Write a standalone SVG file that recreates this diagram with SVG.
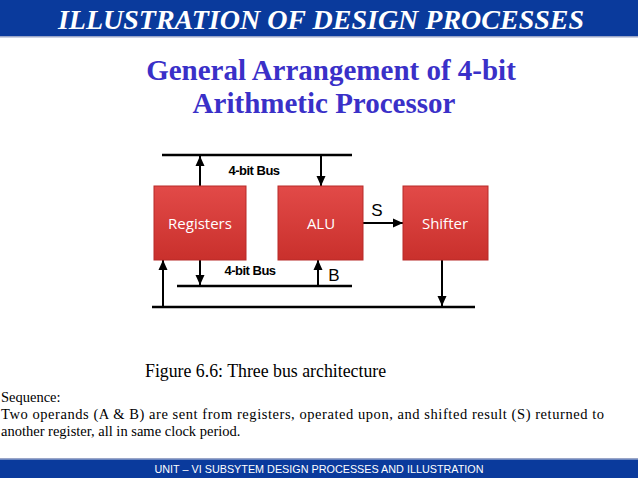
<svg xmlns="http://www.w3.org/2000/svg" width="638" height="478" viewBox="0 0 638 478">
<defs>
<linearGradient id="red" x1="0" y1="0" x2="0" y2="1">
<stop offset="0" stop-color="#e24a48"/>
<stop offset="1" stop-color="#c9302c"/>
</linearGradient>
<marker id="ah" markerUnits="userSpaceOnUse" markerWidth="10" markerHeight="10" viewBox="0 0 10 10" refX="10" refY="5" orient="auto">
<path d="M0,0.5 L10,5 L0,9.5 Z" fill="#000"/>
</marker>
<style>
.box{fill:url(#red);stroke:#b82a28;stroke-width:1}
.bt{font-family:"Open Sans","Liberation Sans",sans-serif;font-size:15px;fill:#fff;text-anchor:middle}
.bus{stroke:#000;stroke-width:2.5;fill:none}
.arr{stroke:#000;stroke-width:2;fill:none;marker-end:url(#ah)}
.lbl{font-family:"Liberation Sans",Arial,sans-serif;font-weight:bold;font-size:13px;fill:#000;text-anchor:middle;letter-spacing:-0.5px}
.sb{font-family:"Liberation Sans",Arial,sans-serif;font-size:17px;fill:#000;text-anchor:middle}
.serif{font-family:"Liberation Serif","Times New Roman",serif}
.hd{font-weight:bold;font-style:italic;font-size:28px;fill:#fff;text-anchor:middle}
.tt{font-weight:bold;font-size:29px;fill:#3a30c8;text-anchor:middle}
.body{font-size:14.5px;fill:#000}
.cap{font-size:17.8px;fill:#000}
.ft{font-family:"Liberation Sans",Arial,sans-serif;font-size:10.8px;fill:#fff;text-anchor:middle}
</style>
</defs>
<rect x="0" y="0" width="638" height="478" fill="#fff"/>
<g id="header">
<rect x="0" y="0" width="638" height="36" fill="#0a3a9c"/>
<rect x="0" y="36" width="638" height="1.5" fill="#9aa6c8"/>
<text class="serif hd" x="321" y="29">ILLUSTRATION OF DESIGN PROCESSES</text>
</g>
<g id="title">
<text class="serif tt" x="331" y="80">General Arrangement of 4-bit</text>
<text class="serif tt" x="324" y="113">Arithmetic Processor</text>
</g>
<g id="connectors">
<line class="bus" x1="162" y1="155" x2="352" y2="155"/>
<line class="bus" x1="177" y1="286" x2="352" y2="286"/>
<line class="bus" x1="152" y1="307" x2="475" y2="307" stroke-width="3"/>
<line class="arr" x1="200" y1="186" x2="200" y2="156"/>
<line class="arr" x1="321" y1="156" x2="321" y2="186"/>
<line class="arr" x1="363" y1="223" x2="403" y2="223"/>
<line class="arr" x1="200" y1="260" x2="200" y2="285"/>
<line class="arr" x1="318" y1="287" x2="318" y2="260"/>
<line class="arr" x1="163" y1="306" x2="163" y2="260"/>
<line class="arr" x1="442" y1="260" x2="442" y2="306"/>
<text class="lbl" x="254" y="175">4-bit Bus</text>
<text class="lbl" x="250" y="275">4-bit Bus</text>
<text class="sb" x="377" y="216">S</text>
<text class="sb" x="334" y="281">B</text>
</g>
<g id="registers">
<rect class="box" x="154" y="186" width="92" height="74"/>
<text class="bt" x="200" y="229">Registers</text>
</g>
<g id="alu">
<rect class="box" x="278" y="186" width="85" height="74"/>
<text class="bt" x="321" y="229">ALU</text>
</g>
<g id="shifter">
<rect class="box" x="403" y="186" width="85" height="74"/>
<text class="bt" x="445" y="229">Shifter</text>
</g>
<g id="caption">
<text class="serif cap" x="145" y="377">Figure 6.6: Three bus architecture</text>
<text class="serif body" x="1" y="402">Sequence:</text>
<text class="serif body" x="1" y="419" textLength="603" lengthAdjust="spacing">Two operands (A &amp; B) are sent from registers, operated upon, and shifted result (S) returned to</text>
<text class="serif body" x="1" y="436">another register, all in same clock period.</text>
</g>
<g id="footer">
<rect x="0" y="458" width="638" height="1.5" fill="#9aa6c8"/>
<rect x="0" y="459.5" width="638" height="18.5" fill="#0a3a9c"/>
<text class="ft" x="319" y="473">UNIT – VI SUBSYTEM DESIGN PROCESSES AND ILLUSTRATION</text>
</g>
</svg>
